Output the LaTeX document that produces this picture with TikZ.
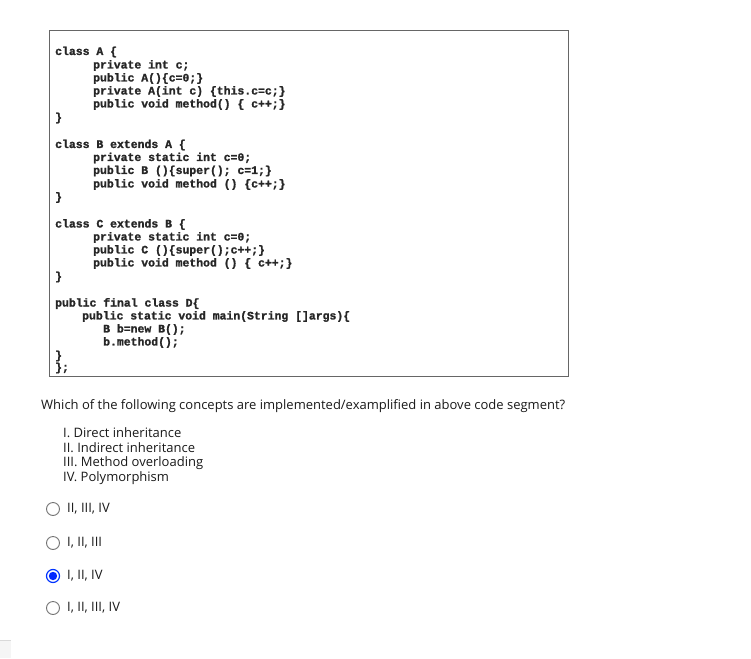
\documentclass[tikz,border=0pt]{standalone}
\usepackage{fontspec}
\setmainfont{Open Sans}
\newfontfamily\codefont{Liberation Mono}[FakeBold=1.5]
\begin{document}
\begin{tikzpicture}[x=1pt,y=-1pt,
  code/.style={anchor=west,inner sep=0pt,font=\codefont\fontsize{11.45}{13}\selectfont\bfseries,text=black!85},
  txt/.style={anchor=west,inner sep=0pt,font=\fontsize{13}{15}\selectfont,text=black!90},
  radio/.style={circle,draw=black!55,line width=0.9pt,minimum size=13pt,inner sep=0pt}]
\useasboundingbox (0,0) rectangle (751,658);
\draw[black!60,line width=0.8pt] (49,30) rectangle (568,376);
\foreach \t/\x/\y [count=\i] in {
 {class A \{}/55/52, {private int c;}/93/65.5, {public A()\{c=0;\}}/93/78.5, {private A(int c) \{this.c=c;\}}/93/91.5, {public void method() \{ c++;\}}/93/104.5, {\}}/55/118,
 {class B extends A \{}/55/145, {private static int c=0;}/93/158, {public B ()\{super(); c=1;\}}/93/171, {public void method () \{c++;\}}/93/184.5, {\}}/55/197.5,
 {class C extends B \{}/55/224.5, {private static int c=0;}/93/237.5, {public C ()\{super();c++;\}}/93/250.5, {public void method () \{ c++;\}}/93/263.5, {\}}/55/277,
 {public final class D\{}/55/303.5, {public static void main(String []args)\{}/82/316.5, {B b=new B();}/103/329.5, {b.method();}/103/342.5, {\}}/55/356, {\};}/55/368}
 \node[code] (c\i) at (\x,\y) {\t};
\node[txt] (q) at (41,406) {Which of the following concepts are implemented/examplified in above code segment?};
\node[txt] (l1) at (63,433) {I. Direct inheritance};
\node[txt] (l2) at (63,448) {II. Indirect inheritance};
\node[txt] (l3) at (63,463) {III. Method overloading};
\node[txt] (l4) at (63,478) {IV. Polymorphism};
\node[radio] (r1) at (53,509) {};
\node[radio] (r2) at (53,543) {};
\node[radio,draw=blue!80!cyan,line width=1.2pt] (r3) at (53,576) {};
\fill[blue!85!cyan] (r3.center) circle (4.2pt);
\node[radio] (r4) at (53,608) {};
\node[txt] (o1) at (67,509) {II, III, IV};
\node[txt] (o2) at (67,543) {I, II, III};
\node[txt] (o3) at (67,576) {I, II, IV};
\node[txt] (o4) at (67,608) {I, II, III, IV};
\fill[black!4] (0,640) rectangle (11,658);
\draw[black!15] (0,640) -- (11,640);
\end{tikzpicture}
\end{document}
